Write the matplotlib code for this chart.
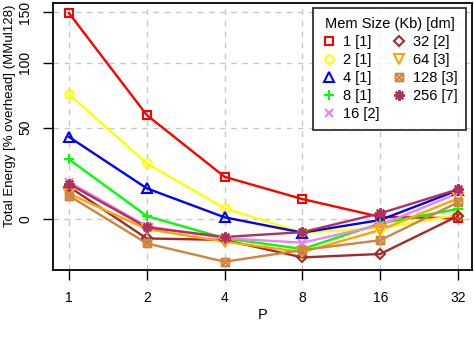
import numpy as np
import matplotlib
matplotlib.use("Agg")
import matplotlib.pyplot as plt
from matplotlib.path import Path

plt.rcParams['font.family'] = ['Liberation Sans', 'DejaVu Sans']

# --- data ---
p_labels = ["1", "2", "4", "8", "16", "32"]
mem_labels = ["1 [1]", "2 [1]", "4 [1]", "8 [1]", "16 [2]",
              "32 [2]", "64 [3]", "128 [3]", "256 [7]"]

e_1 = [149, 58.6, 20.7, 9.4, 1.1, 0.5]
e_2 = [73.9, 28.1, 5.0, -5.7, -3.8, 2.0]
e_4 = [44.0, 14.7, 0.9, -5.7, -0.3, 13.8]
e_8 = [30.4, 1.5, -8.0, -12.3, -1.8, 4.7]
e_16 = [18.0, -3.0, -8.0, -9.8, -2.5, 12.3]
e_32 = [15.5, -8.1, -8.7, -15.5, -14.2, 1.5]
e_64 = [12.0, -4.2, -9.4, -13.5, -4.6, 9.7]
e_128 = [11.0, -10.1, -17.1, -12.7, -8.8, 7.8]
e_256 = [17.0, -3.5, -7.5, -5.5, 2.7, 14.2]
series = [e_1, e_2, e_4, e_8, e_16, e_32, e_64, e_128, e_256]

colors = ["#FF0000", "#FFFF00", "#0000FF", "#00FF00", "#EE82EE",
          "#A52A2A", "#FFA500", "#CD853F", "#B03060"]

# square with a cross (R pch 7)
boxx = Path([(-1, -1), (1, -1), (1, 1), (-1, 1), (-1, -1),
             (-1, -1), (1, 1), (-1, 1), (1, -1)],
            [Path.MOVETO, Path.LINETO, Path.LINETO, Path.LINETO, Path.CLOSEPOLY,
             Path.MOVETO, Path.LINETO, Path.MOVETO, Path.LINETO])
markers = ["s", "o", "^", "+", "x", "D", "v", boxx, (8, 2, 0)]
msizes = [5.5, 6, 6.5, 7.5, 6, 5, 6.5, 5.5, 7.5]

fig = plt.figure(figsize=(4.74, 3.41), dpi=100)
ax = fig.add_axes([0.1118, 0.208, 0.884, 0.783])

# energy overhead shown on log scale of the ratio
ax.set_yscale('function', functions=(lambda v: np.log(1 + np.asarray(v) / 100.0),
                                     lambda t: 100.0 * (np.exp(t) - 1)))

x = np.arange(len(p_labels))
handles = []
for vals, c, m, ms, lab in zip(series, colors, markers, msizes, mem_labels):
    ax.plot(x, vals, color=c, lw=1.7, zorder=3)
    ax.plot(x, vals, ls='none', marker=m, ms=ms, mfc='none', mec=c, mew=1.5, zorder=4)
    h, = ax.plot([], [], ls='none', marker=m, ms=ms, mfc='none', mec=c, mew=1.5, label=lab)
    handles.append(h)

ax.set_xlim(-0.206, 5.18)
ax.set_ylim(-20.1, 160.4)
ax.set_xticks(x)
ax.set_xticklabels(p_labels)
ax.set_yticks([0, 50, 100, 150])
ax.set_yticklabels(["0", "50", "100", "150"], rotation=90, va='center')
ax.tick_params(direction='out', length=7, width=1, labelsize=10, pad=8)
ax.grid(True, color='#C8C8C8', ls=(0, (4, 4)), lw=1)
ax.set_axisbelow(True)
for s in ax.spines.values():
    s.set_linewidth(1.3)

ax.set_xlabel("P", fontsize=10.5, labelpad=2)
ax.set_ylabel("Total Energy [% overhead] (MMul128)", fontsize=9.5, va='center')
ax.yaxis.set_label_coords(-0.1026, 0.579)

leg = fig.legend(handles=handles, ncol=2, loc='upper right',
                 bbox_to_anchor=(0.983, 0.9765), bbox_transform=fig.transFigure,
                 title="Mem Size (Kb) [dm]", fontsize=10.5, title_fontsize=10.5,
                 frameon=True, fancybox=False, edgecolor='black',
                 handlelength=1.0, handletextpad=0.4, columnspacing=0.9,
                 labelspacing=0.28, borderpad=0.6, borderaxespad=0)
leg.get_frame().set_linewidth(1.3)
leg.set_zorder(10)

fig.savefig("out.png", dpi=100)
